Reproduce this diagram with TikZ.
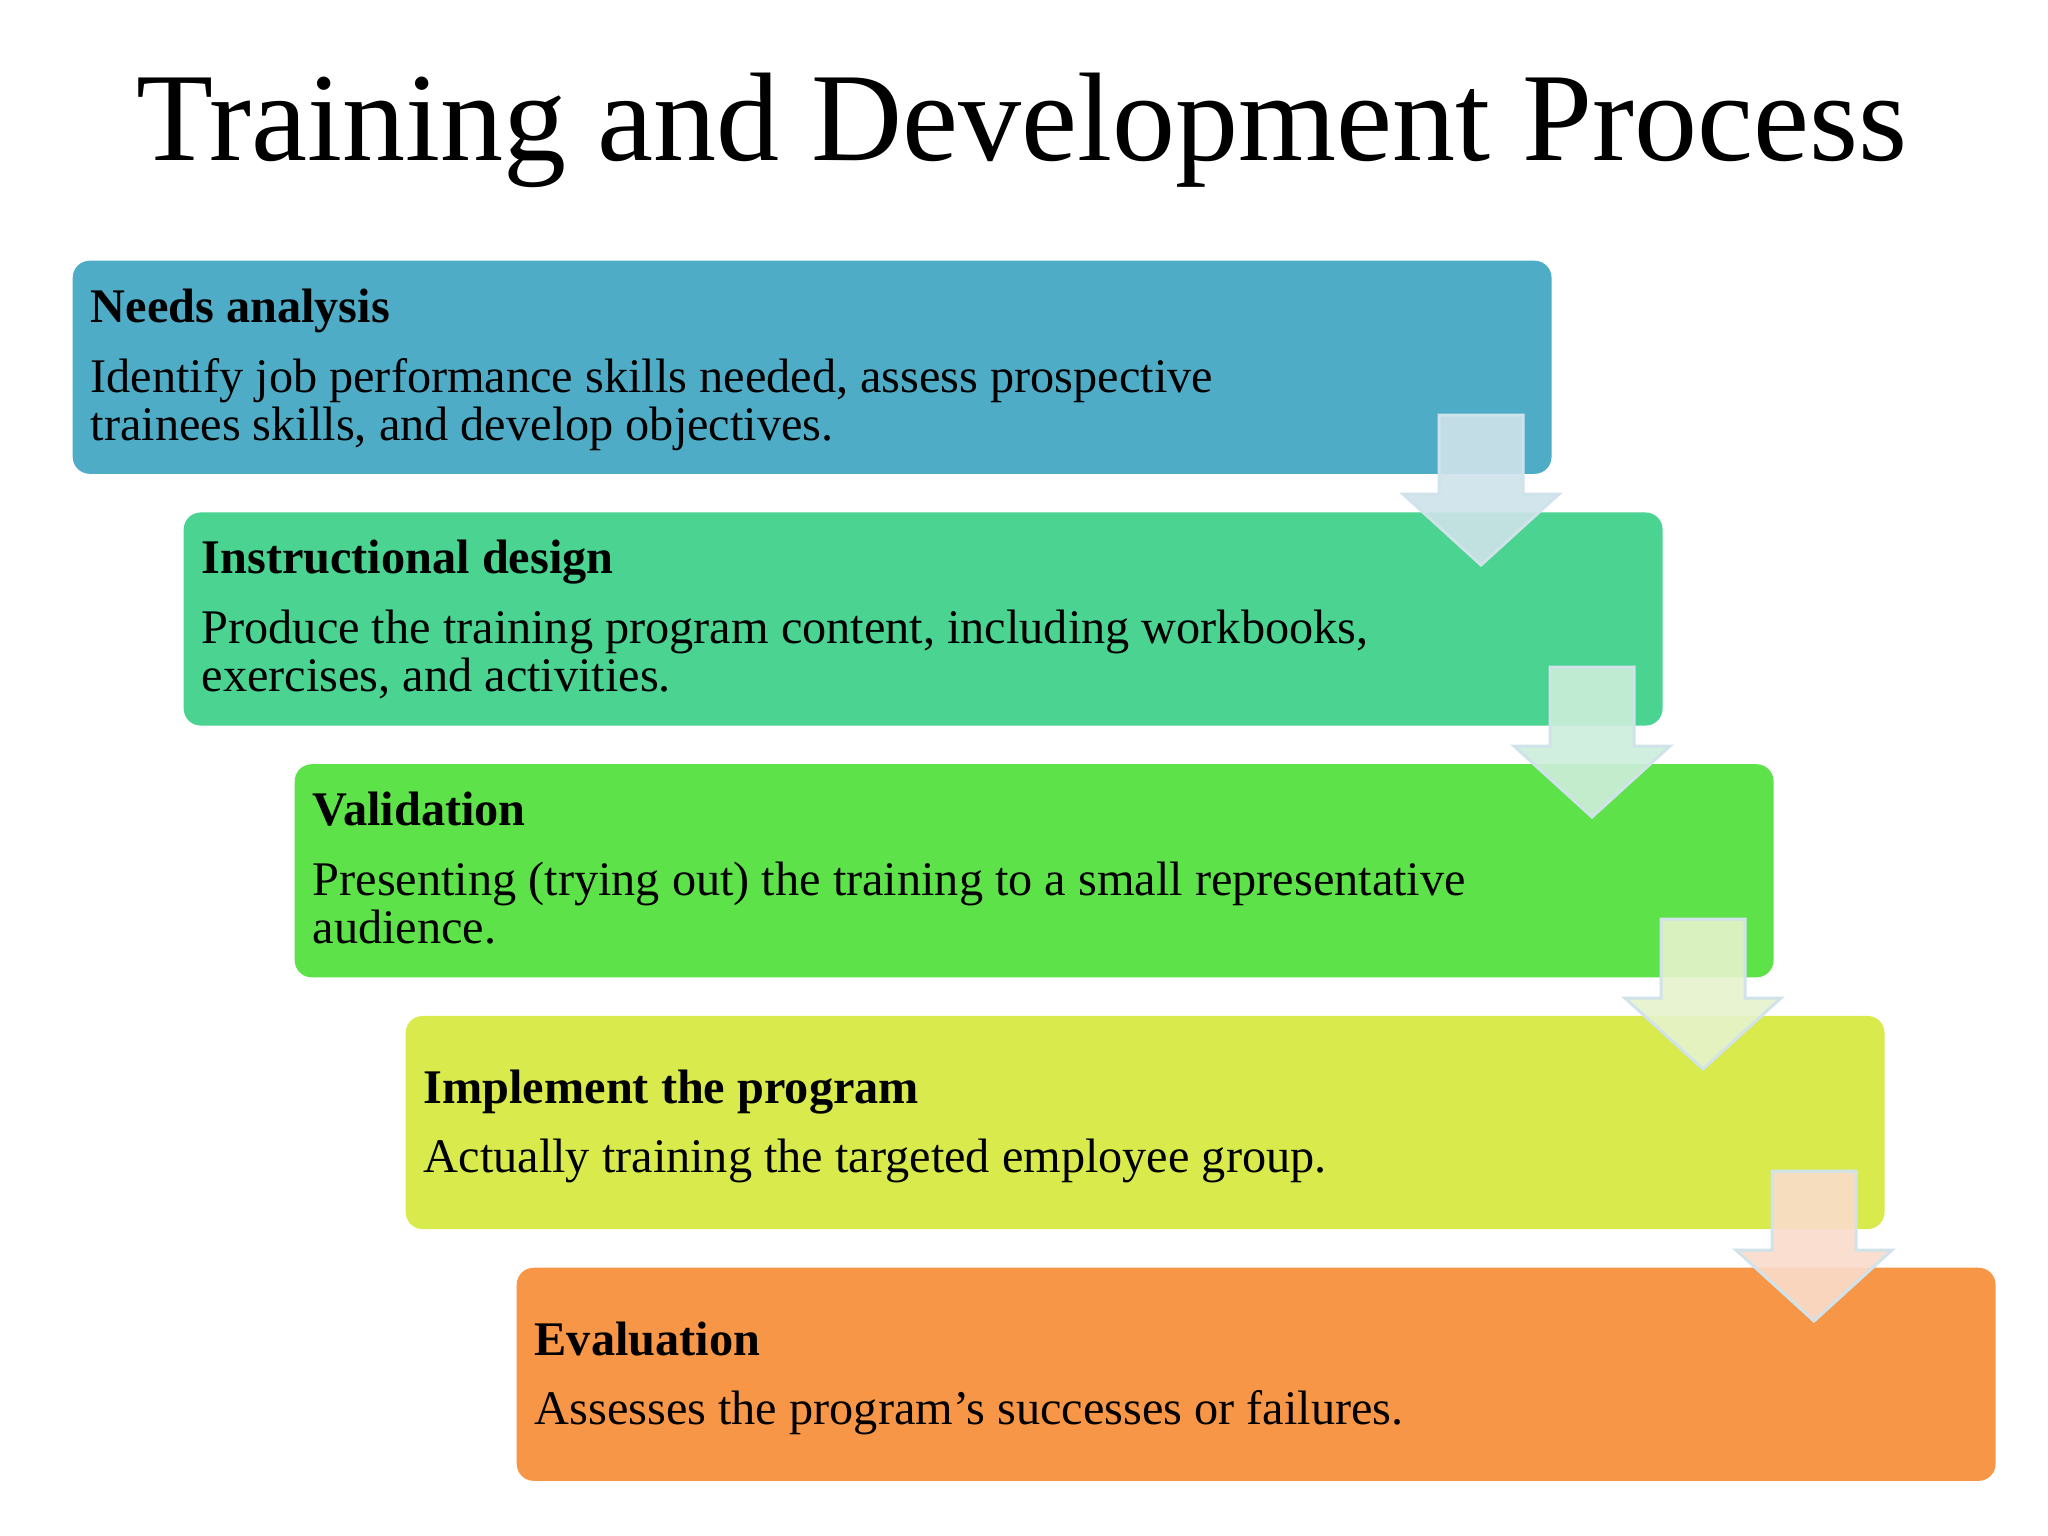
\documentclass[tikz,border=0pt]{standalone}
\usepackage{fontspec}
\setmainfont{Liberation Serif}
\definecolor{cA}{HTML}{4FACC7}
\definecolor{cB}{HTML}{4AD391}
\definecolor{cC}{HTML}{5EE249}
\definecolor{cD}{HTML}{D8EA4C}
\definecolor{cE}{HTML}{F79646}
\definecolor{aA}{HTML}{CFE3EA}
\definecolor{aB}{HTML}{CDEEDB}
\definecolor{aC}{HTML}{E6F3CC}
\definecolor{aD}{HTML}{FADCCB}
\definecolor{aEdge}{HTML}{D0E2EA}
\begin{document}
\begin{tikzpicture}[x=0.01cm,y=-0.01cm,
  stepbox/.style={rectangle, rounded corners=0.17cm, minimum width=14.78cm, minimum height=2.13cm, inner sep=0pt, anchor=north west, draw=none},
  headtxt/.style={inner sep=0pt, anchor=base west, font=\fontsize{13.73pt}{16pt}\selectfont\bfseries},
  bodytxt/.style={inner sep=0pt, anchor=base west, font=\fontsize{13.73pt}{16pt}\selectfont},
  blockarrow/.style={draw=aEdge, line width=0.03cm, fill opacity=0.9, line join=miter}]
\path[use as bounding box, fill=white] (0,0) rectangle (2048,1536);
\node[inner sep=0pt, anchor=base, font=\fontsize{35.85pt}{40pt}\selectfont] (title) at (1022,160) {Training and Development Process};
% boxes
\node[stepbox, fill=cA] (b1) at (72,260) {};
\node[stepbox, fill=cB] (b2) at (183,511.75) {};
\node[stepbox, fill=cC] (b3) at (294,763.5) {};
\node[stepbox, fill=cD] (b4) at (405,1015.25) {};
\node[stepbox, fill=cE] (b5) at (516,1267) {};
% arrows
\foreach \i/\c in {0/aA,1/aB,2/aC,3/aD}{
  \pgfmathsetmacro{\cx}{1481+111*\i}
  \pgfmathsetmacro{\ty}{415+252*\i}
  \filldraw[blockarrow, fill=\c] (\cx-42,\ty) -- (\cx+42,\ty) -- (\cx+42,\ty+79) -- (\cx+78,\ty+79) -- (\cx,\ty+150) -- (\cx-78,\ty+79) -- (\cx-42,\ty+79) -- cycle;
}
% texts
\node[headtxt] (h1) at (90,322) {Needs analysis};
\node[bodytxt] (t1a) at (90,392) {Identify job performance skills needed, assess prospective};
\node[bodytxt] (t1b) at (90,440) {trainees skills, and develop objectives.};
\node[headtxt] (h2) at (201,573.75) {Instructional design};
\node[bodytxt] (t2a) at (201,643.75) {Produce the training program content, including workbooks,};
\node[bodytxt] (t2b) at (201,691.75) {exercises, and activities.};
\node[headtxt] (h3) at (312,825.5) {Validation};
\node[bodytxt] (t3a) at (312,895.5) {Presenting (trying out) the training to a small representative};
\node[bodytxt] (t3b) at (312,943.5) {audience.};
\node[headtxt] (h4) at (423,1103.25) {Implement the program};
\node[bodytxt] (t4a) at (423,1172.25) {Actually training the targeted employee group.};
\node[headtxt] (h5) at (534,1355) {Evaluation};
\node[bodytxt] (t5a) at (534,1424) {Assesses the program’s successes or failures.};
\end{tikzpicture}
\end{document}
